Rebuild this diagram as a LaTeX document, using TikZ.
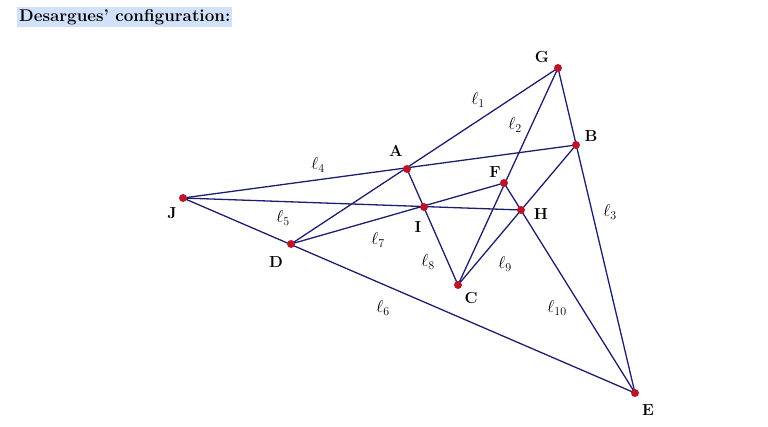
\documentclass[tikz,border=0pt]{standalone}
\usepackage{amsmath}
\begin{document}
\begin{tikzpicture}[x=1pt,y=-1pt,
  ln/.style={draw={rgb,255:red,30;green,30;blue,110},line width=1.3pt},
  pt/.style={circle,fill={rgb,255:red,190;green,20;blue,40},inner sep=0pt,minimum size=8pt},
  lab/.style={font=\bfseries\fontsize{16}{18}\selectfont},
  ll/.style={font=\fontsize{18}{20}\selectfont}]
\useasboundingbox (0,0) rectangle (768,427);
\node[fill={rgb,255:red,210;green,225;blue,250},anchor=west,inner sep=2pt,font=\bfseries\fontsize{17}{19}\selectfont] (title) at (17,17) {Desargues' configuration:};
\coordinate (G) at (558,68); \coordinate (B) at (576,145); \coordinate (A) at (407,169);
\coordinate (F) at (504,183); \coordinate (J) at (183,198); \coordinate (I) at (424,207);
\coordinate (H) at (521,210); \coordinate (D) at (291,244); \coordinate (C) at (458,285);
\coordinate (E) at (635,393);
\draw[ln] (G)--(D); \draw[ln] (G)--(C); \draw[ln] (G)--(E);
\draw[ln] (J)--(B); \draw[ln] (J)--(H); \draw[ln] (J)--(E);
\draw[ln] (D)--(F); \draw[ln] (A)--(C); \draw[ln] (C)--(B); \draw[ln] (F)--(E);
\foreach \p in {G,B,A,F,J,I,H,D,C,E} \node[pt] (n\p) at (\p) {};
\node[lab] (lG) at (542,57) {G}; \node[lab] (lB) at (591,136) {B};
\node[lab] (lA) at (396,151) {A}; \node[lab] (lF) at (495,172) {F};
\node[lab] (lJ) at (172,213) {J}; \node[lab] (lI) at (418,227) {I};
\node[lab] (lH) at (541,214) {H}; \node[lab] (lD) at (276,262) {D};
\node[lab] (lC) at (471,298) {C}; \node[lab] (lE) at (648,410) {E};
\node[ll] (l1) at (478,100) {$\ell_1$}; \node[ll] (l2) at (515,125) {$\ell_2$};
\node[ll] (l3) at (610,212) {$\ell_3$}; \node[ll] (l4) at (318,165) {$\ell_4$};
\node[ll] (l5) at (283,218) {$\ell_5$}; \node[ll] (l6) at (383,308) {$\ell_6$};
\node[ll] (l7) at (378,240) {$\ell_7$}; \node[ll] (l8) at (428,262) {$\ell_8$};
\node[ll] (l9) at (505,264) {$\ell_9$}; \node[ll] (l10) at (557,308) {$\ell_{10}$};
\end{tikzpicture}
\end{document}
